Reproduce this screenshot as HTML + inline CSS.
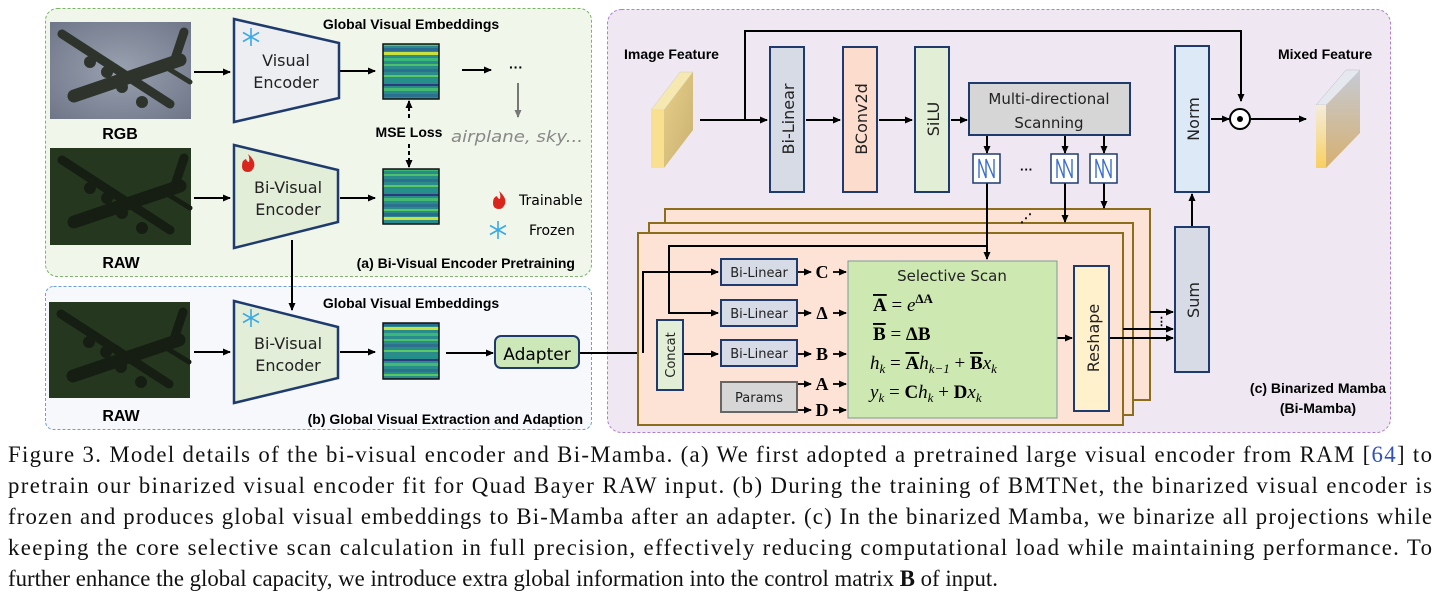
<!DOCTYPE html>
<html><head><meta charset="utf-8"><style>
html,body{margin:0;padding:0;background:#fff;}
svg{display:block;}
.s{font-family:"DejaVu Sans","Liberation Sans",sans-serif;}
.b{font-family:"Liberation Sans",sans-serif;font-weight:bold;}
.m{font-family:"Liberation Serif",serif;}
</style></head><body>
<svg width="1440" height="604" viewBox="0 0 1440 604" xmlns="http://www.w3.org/2000/svg">
<defs>
<marker id="ar" markerWidth="8" markerHeight="8" refX="7" refY="4" orient="auto" markerUnits="userSpaceOnUse"><path d="M0,0.5 L8,4 L0,7.5z" fill="#000"/></marker>
<marker id="ag" markerWidth="8" markerHeight="8" refX="7" refY="4" orient="auto" markerUnits="userSpaceOnUse"><path d="M0,0.5 L8,4 L0,7.5z" fill="#777"/></marker>
<linearGradient id="yf" x1="0" y1="0" x2="1" y2="1"><stop offset="0" stop-color="#e8cf8a"/><stop offset="1" stop-color="#c8b070"/></linearGradient>
<linearGradient id="mf" x1="0" y1="0" x2="0" y2="1"><stop offset="0" stop-color="#c6cbd6"/><stop offset="1" stop-color="#d6b070"/></linearGradient>
<linearGradient id="mf2" x1="0" y1="0" x2="0" y2="1"><stop offset="0" stop-color="#f4ecdc"/><stop offset="1" stop-color="#f8d060"/></linearGradient>
<radialGradient id="sky" cx="0.5" cy="0.5" r="0.7"><stop offset="0" stop-color="#9aa1b0"/><stop offset="1" stop-color="#6e7688"/></radialGradient>
<pattern id="emb" width="56" height="55" patternUnits="userSpaceOnUse">
<rect width="56" height="55" fill="#2a8c8a"/>
<rect y="3" width="56" height="3" fill="#3bb77a"/><rect y="9" width="56" height="2" fill="#4cc06a"/>
<rect y="14" width="56" height="3" fill="#2e6f8e"/><rect y="20" width="56" height="2" fill="#5ac864"/>
<rect y="25" width="56" height="2" fill="#23918b"/><rect y="29" width="56" height="2" fill="#2a3a7c"/>
<rect y="33" width="56" height="3" fill="#45b873"/><rect y="39" width="56" height="3" fill="#2c7090"/>
<rect y="44" width="56" height="2" fill="#57c765"/><rect y="48" width="56" height="3" fill="#2a6a8e"/>
<rect y="52" width="56" height="3" fill="#c8e040"/>
</pattern>
<g id="plane" stroke-linecap="round">
<line x1="10" y1="12" x2="118" y2="82" stroke-width="9"/>
<line x1="22" y1="74" x2="128" y2="38" stroke-width="13"/>
<line x1="122" y1="40" x2="132" y2="10" stroke-width="9"/>
<line x1="112" y1="44" x2="138" y2="60" stroke-width="5"/>
<circle cx="38" cy="40" r="6" stroke="none"/><circle cx="55" cy="50" r="6" stroke="none"/>
<circle cx="70" cy="65" r="6" stroke="none"/><circle cx="90" cy="80" r="6" stroke="none"/>
</g>
<g id="snow" stroke="#3aa8e8" stroke-width="1.6"><line x1="0" y1="-9" x2="0" y2="9"/><line x1="-8" y1="-4.5" x2="8" y2="4.5"/><line x1="-8" y1="4.5" x2="8" y2="-4.5"/></g>
<g id="fire"><path d="M0,-9 Q8,-2 6,4 Q4,9 0,9 Q-6,9 -6,3 Q-6,-3 -2,-4 Q-1,-1 1,-1 Q2,-5 0,-9z" fill="#d9261c"/></g>
<g id="scan"><rect width="27" height="29" fill="#fff" stroke="#1f3b6e" stroke-width="1.5"/><path d="M6,24 L6,5 L13,24 L13,5 L21,24 L21,5" fill="none" stroke="#3d6fd0" stroke-width="1.4"/></g>
</defs>

<!-- Panel a -->
<rect x="45.5" y="8.5" width="546" height="268" rx="12" fill="#f1f6ea" stroke="#7db36a" stroke-dasharray="3,2"/>
<!-- Panel b -->
<rect x="45.5" y="286.5" width="546" height="143" rx="8" fill="#f6f8fc" stroke="#6a9fd8" stroke-dasharray="3,2"/>
<!-- Panel c -->
<rect x="607.5" y="9.5" width="783" height="423" rx="14" fill="#efe8f3" stroke="#b080d0" stroke-dasharray="3,2"/>

<!-- images -->
<rect x="50" y="22" width="141" height="97" fill="url(#sky)"/>
<use href="#plane" x="52" y="22" stroke="#2e342c" fill="#2e342c"/>
<rect x="50" y="148" width="141" height="97" fill="#25381f"/>
<use href="#plane" x="52" y="148" stroke="#161e14" fill="#161e14"/>
<rect x="49" y="302" width="141" height="96" fill="#25381f"/>
<use href="#plane" x="51" y="302" stroke="#161e14" fill="#161e14"/>
<g class="b" font-size="16" text-anchor="middle"><text x="120" y="139">RGB</text><text x="121" y="268">RAW</text><text x="121" y="421">RAW</text></g>

<!-- arrows left -->
<g stroke="#000" stroke-width="2" marker-end="url(#ar)" fill="none">
<line x1="194" y1="72" x2="230" y2="72"/><line x1="194" y1="198" x2="230" y2="198"/><line x1="194" y1="352" x2="230" y2="352"/>
<line x1="340" y1="71" x2="375" y2="71"/><line x1="340" y1="198" x2="375" y2="198"/><line x1="340" y1="352" x2="375" y2="352"/>
<line x1="462" y1="70" x2="491" y2="70"/><line x1="446" y1="353" x2="493" y2="353"/>
<line x1="292" y1="240" x2="292" y2="310"/>
<line x1="579" y1="353" x2="655" y2="353"/>
</g>
<line x1="518" y1="83" x2="518" y2="117" stroke="#777" stroke-width="2" marker-end="url(#ag)"/>
<text x="509" y="72" class="b" font-size="14">···</text>
<g stroke="#000" stroke-width="2" stroke-dasharray="4,3" marker-end="url(#ar)"><line x1="409" y1="118" x2="409" y2="101"/><line x1="409" y1="144" x2="409" y2="167"/></g>
<text x="409" y="137" class="b" font-size="14" text-anchor="middle">MSE Loss</text>
<text x="451" y="142" font-family="DejaVu Sans,sans-serif" font-style="italic" font-size="16" fill="#888" textLength="132" lengthAdjust="spacingAndGlyphs">airplane, sky...</text>

<!-- encoders -->
<path d="M234,19 L339,43 L339,98 L234,122z" fill="#eceef2" stroke="#1f3b6e" stroke-width="2.5"/>
<path d="M234,145 L338,170 L338,222 L234,248z" fill="#e2eed8" stroke="#1f3b6e" stroke-width="2.5"/>
<path d="M234,301 L338,327 L338,378 L234,403z" fill="#e2eed8" stroke="#1f3b6e" stroke-width="2.5"/>
<use href="#snow" x="251" y="37"/><use href="#snow" x="251" y="318"/>
<use href="#fire" x="248" y="163"/>
<g class="s" font-size="16" text-anchor="middle" fill="#222">
<text x="286" y="66">Visual</text><text x="286" y="88">Encoder</text>
<text x="288" y="193">Bi-Visual</text><text x="288" y="215">Encoder</text>
<text x="288" y="349">Bi-Visual</text><text x="288" y="371">Encoder</text>
</g>
<rect x="383" y="44" width="56" height="55" fill="url(#emb)" stroke="#111" stroke-width="1.5"/>
<rect x="383" y="169" width="56" height="55" fill="url(#emb)" stroke="#111" stroke-width="1.5"/>
<rect x="383" y="323" width="56" height="56" fill="url(#emb)" stroke="#111" stroke-width="1.5"/>
<g class="b" font-size="14" text-anchor="middle"><text x="411" y="29">Global Visual Embeddings</text><text x="411" y="308">Global Visual Embeddings</text></g>
<use href="#fire" x="499" y="200"/><text x="519" y="205" class="s" font-size="14">Trainable</text>
<use href="#snow" x="498" y="230"/><text x="529" y="235" class="s" font-size="14">Frozen</text>
<text x="575" y="268" class="b" font-size="14" text-anchor="end">(a) Bi-Visual Encoder Pretraining</text>
<text x="583" y="424" class="b" font-size="14" text-anchor="end">(b) Global Visual Extraction and Adaption</text>
<rect x="495" y="336" width="84" height="32" rx="6" fill="#cde8b8" stroke="#1f3b6e" stroke-width="2"/>
<text x="537" y="360" class="s" font-size="17" text-anchor="middle">Adapter</text>

<!-- panel c -->
<text x="624" y="59" class="b" font-size="14">Image Feature</text>
<text x="1278" y="59" class="b" font-size="14">Mixed Feature</text>
<path d="M651,110 L680,72 L693,72 L664,110z" fill="#f5e8b0" stroke="#ccc" stroke-width="0.5"/>
<path d="M651,110 L664,110 L664,168 L651,168z" fill="#f8e090"/>
<path d="M664,110 L693,72 L693,130 L664,168z" fill="url(#yf)"/>
<path d="M1316,105 L1346,70 L1360,70 L1330,105z" fill="#e6e8f0" stroke="#bbb" stroke-width="0.5"/>
<path d="M1316,105 L1326,105 L1326,168 L1316,168z" fill="url(#mf2)"/>
<path d="M1326,105 L1360,70 L1360,133 L1326,168z" fill="url(#mf)"/>

<!-- frames -->
<rect x="665" y="209" width="485" height="191" fill="#fde3d6" stroke="#8c6d1c" stroke-width="2"/>
<rect x="649" y="223" width="484" height="192" fill="#fde3d6" stroke="#8c6d1c" stroke-width="2"/>
<rect x="638" y="233" width="485" height="192" fill="#fde3d6" stroke="#8c6d1c" stroke-width="2"/>
<text x="1020" y="222" font-size="12" class="b">⋰</text>

<g stroke="#000" stroke-width="2" fill="none">
<polyline points="700,120 745,120"/>
<polyline points="745,120 745,31 1241,31 1241,101" marker-end="url(#ar)"/>
<line x1="745" y1="120" x2="767" y2="120" marker-end="url(#ar)"/>
<line x1="806" y1="120" x2="840" y2="120" marker-end="url(#ar)"/>
<line x1="879" y1="120" x2="912" y2="120" marker-end="url(#ar)"/>
<line x1="951" y1="120" x2="967" y2="120" marker-end="url(#ar)"/>
<line x1="1211" y1="119" x2="1229" y2="119" marker-end="url(#ar)"/>
<line x1="1251" y1="119" x2="1306" y2="119" marker-end="url(#ar)"/>
<line x1="1192" y1="227" x2="1192" y2="194" marker-end="url(#ar)"/>
<line x1="987" y1="136" x2="987" y2="153" marker-end="url(#ar)"/>
<line x1="1065" y1="136" x2="1065" y2="153" marker-end="url(#ar)"/>
<line x1="1104" y1="136" x2="1104" y2="153" marker-end="url(#ar)"/>
<line x1="1065" y1="183" x2="1065" y2="222" marker-end="url(#ar)"/>
<line x1="1104" y1="183" x2="1104" y2="208" marker-end="url(#ar)"/>
<polyline points="987,183 987,259" marker-end="url(#ar)"/>
<polyline points="987,246 669,246 669,313 718,313" marker-end="url(#ar)"/>
<polyline points="643,353 643,272 718,272" marker-end="url(#ar)"/>
<line x1="683" y1="354" x2="718" y2="354" marker-end="url(#ar)"/>
<line x1="1057" y1="338" x2="1072" y2="338" marker-end="url(#ar)"/>
<line x1="1110" y1="338" x2="1173" y2="338" marker-end="url(#ar)"/>
<line x1="1123" y1="329" x2="1173" y2="329" marker-end="url(#ar)"/>
<line x1="1150" y1="312" x2="1173" y2="312" marker-end="url(#ar)"/>
<g stroke-width="1.8">
<line x1="797" y1="272" x2="811" y2="272" marker-end="url(#ar)"/><line x1="833" y1="272" x2="846" y2="272" marker-end="url(#ar)"/>
<line x1="797" y1="313" x2="811" y2="313" marker-end="url(#ar)"/><line x1="833" y1="313" x2="846" y2="313" marker-end="url(#ar)"/>
<line x1="797" y1="354" x2="811" y2="354" marker-end="url(#ar)"/><line x1="833" y1="354" x2="846" y2="354" marker-end="url(#ar)"/>
<line x1="797" y1="384" x2="811" y2="384" marker-end="url(#ar)"/><line x1="833" y1="384" x2="846" y2="384" marker-end="url(#ar)"/>
<line x1="797" y1="410" x2="811" y2="410" marker-end="url(#ar)"/><line x1="833" y1="410" x2="846" y2="410" marker-end="url(#ar)"/>
</g>
</g>
<text x="1020" y="174" class="b" font-size="13">···</text>
<text x="1156" y="325" class="b" font-size="11">⋮</text>

<use href="#scan" x="973" y="154"/><use href="#scan" x="1051" y="154"/><use href="#scan" x="1090" y="154"/>

<g stroke="#1f3b6e" stroke-width="2">
<rect x="770" y="47" width="34" height="145" fill="#d6dbe6"/>
<rect x="843" y="47" width="34" height="145" fill="#fbdccd"/>
<rect x="915" y="47" width="34" height="145" fill="#e2efd6"/>
<rect x="969" y="83" width="161" height="52" fill="#d6d6d6"/>
<rect x="1175" y="46" width="34" height="146" fill="#dde9f6"/>
<rect x="1175" y="227" width="34" height="145" fill="#d6dbe6"/>
<rect x="657" y="320" width="26" height="70" fill="#e2efd6"/>
<rect x="721" y="259" width="76" height="26" fill="#d6dbe6"/>
<rect x="721" y="300" width="76" height="26" fill="#d6dbe6"/>
<rect x="721" y="340" width="76" height="26" fill="#d6dbe6"/>
<rect x="1074" y="266" width="35" height="145" fill="#fff1cc"/>
</g>
<rect x="721" y="382" width="76" height="30" fill="#d6d6d6" stroke="#666" stroke-width="2"/>
<rect x="848" y="261" width="209" height="157" fill="#cde8b0" stroke="#7a9a9a" stroke-width="1"/>
<circle cx="1240" cy="119" r="10" fill="#fff" stroke="#000" stroke-width="2"/><circle cx="1240" cy="119" r="3" fill="#000"/>

<g class="s" font-size="16" fill="#222">
<text transform="translate(794,119) rotate(-90)" text-anchor="middle">Bi-Linear</text>
<text transform="translate(867,119) rotate(-90)" text-anchor="middle">BConv2d</text>
<text transform="translate(939,119) rotate(-90)" text-anchor="middle">SiLU</text>
<text transform="translate(1199,119) rotate(-90)" text-anchor="middle">Norm</text>
<text transform="translate(1199,300) rotate(-90)" text-anchor="middle">Sum</text>
<text transform="translate(1099,338) rotate(-90)" text-anchor="middle">Reshape</text>
<text x="1049" y="104" text-anchor="middle" font-size="15">Multi-directional</text>
<text x="1049" y="128" text-anchor="middle" font-size="15">Scanning</text>
<text x="952" y="281" text-anchor="middle" font-size="15">Selective Scan</text>
</g>
<g class="s" font-size="13" fill="#222" text-anchor="middle">
<text transform="translate(675,355) rotate(-90)" text-anchor="middle">Concat</text>
<text x="759" y="277">Bi-Linear</text><text x="759" y="318">Bi-Linear</text><text x="759" y="358">Bi-Linear</text>
<text x="759" y="402">Params</text>
</g>
<g class="m" font-weight="bold" font-size="18" text-anchor="middle">
<text x="822" y="278">C</text><text x="822" y="319">Δ</text><text x="822" y="360">B</text><text x="822" y="390">A</text><text x="822" y="416">D</text>
</g>
<g class="m" font-size="19">
<text x="873" y="311"><tspan font-weight="bold" text-decoration="overline">A</tspan> = <tspan font-style="italic">e</tspan><tspan font-size="13" dy="-8" font-weight="bold">ΔA</tspan></text>
<text x="873" y="340"><tspan font-weight="bold" text-decoration="overline">B</tspan> = <tspan font-weight="bold">ΔB</tspan></text>
<text x="870" y="369"><tspan font-style="italic">h</tspan><tspan font-size="13" dy="4" font-style="italic">k</tspan><tspan dy="-4"> = </tspan><tspan font-weight="bold" text-decoration="overline">A</tspan><tspan font-style="italic">h</tspan><tspan font-size="13" dy="4" font-style="italic">k−1</tspan><tspan dy="-4"> + </tspan><tspan font-weight="bold" text-decoration="overline">B</tspan><tspan font-style="italic">x</tspan><tspan font-size="13" dy="4" font-style="italic">k</tspan></text>
<text x="870" y="398"><tspan font-style="italic">y</tspan><tspan font-size="13" dy="4" font-style="italic">k</tspan><tspan dy="-4"> = </tspan><tspan font-weight="bold">C</tspan><tspan font-style="italic">h</tspan><tspan font-size="13" dy="4" font-style="italic">k</tspan><tspan dy="-4"> + </tspan><tspan font-weight="bold">D</tspan><tspan font-style="italic">x</tspan><tspan font-size="13" dy="4" font-style="italic">k</tspan></text>
</g>
<g class="b" font-size="14" text-anchor="middle"><text x="1318" y="393">(c) Binarized Mamba</text><text x="1318" y="413">(Bi-Mamba)</text></g>

<!-- caption -->
<g class="m" font-size="22.8" fill="#111">
<text x="8" y="462" textLength="1424" lengthAdjust="spacing">Figure 3. Model details of the bi-visual encoder and Bi-Mamba. (a) We first adopted a pretrained large visual encoder from RAM [<tspan fill="#3050c0">64</tspan>] to</text>
<text x="8" y="493" textLength="1424" lengthAdjust="spacing">pretrain our binarized visual encoder fit for Quad Bayer RAW input. (b) During the training of BMTNet, the binarized visual encoder is</text>
<text x="8" y="524" textLength="1424" lengthAdjust="spacing">frozen and produces global visual embeddings to Bi-Mamba after an adapter. (c) In the binarized Mamba, we binarize all projections while</text>
<text x="8" y="555" textLength="1424" lengthAdjust="spacing">keeping the core selective scan calculation in full precision, effectively reducing computational load while maintaining performance. To</text>
<text x="8" y="586">further enhance the global capacity, we introduce extra global information into the control matrix <tspan font-weight="bold">B</tspan> of input.</text>
</g>
</svg>
</body></html>
